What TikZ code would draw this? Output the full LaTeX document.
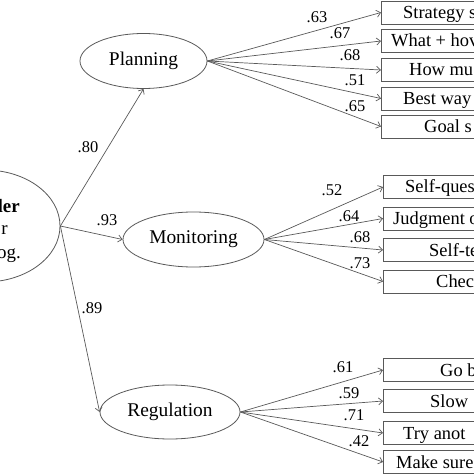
\documentclass[tikz,border=0pt]{standalone}
\usepackage{fontspec}
\setmainfont{Liberation Serif}
\usetikzlibrary{arrows.meta,shapes.geometric}
\begin{document}
\begin{tikzpicture}[x=1bp,y=-1bp,
  lat/.style={ellipse,draw=black!65,line width=0.8bp,inner sep=0pt,font=\fontsize{19.5}{19.5}\selectfont},
  obs/.style={rectangle,draw=black!65,line width=0.8bp,minimum width=160bp,minimum height=23bp,anchor=west,inner sep=0pt},
  btxt/.style={anchor=base west,inner sep=0pt,font=\fontsize{18.5}{18.5}\selectfont},
  coef/.style={inner sep=0pt,font=\fontsize{16.5}{16.5}\selectfont},
  arr/.style={draw=black!65,line width=0.7bp,-{Straight Barb[length=4bp,width=7bp]}}]
\useasboundingbox (0,0) rectangle (474,474);
\clip (0,0) rectangle (474,474);
% latent variables
\node[lat,minimum width=150bp,minimum height=112bp] (root) at (-15,226) {};
\node[anchor=base east,inner sep=0pt,font=\fontsize{19}{19}\selectfont\bfseries] (r1) at (20,213) {der};
\node[anchor=base east,inner sep=0pt,font=\fontsize{19}{19}\selectfont] (r2) at (8,235) {r};
\node[anchor=base east,inner sep=0pt,font=\fontsize{19}{19}\selectfont] (r3) at (21,258) {og.};
\node[lat,minimum width=127bp,minimum height=55bp] (plan) at (143.5,61) {Planning};
\node[lat,minimum width=141bp,minimum height=55bp] (mon) at (193.5,239.5) {Monitoring};
\node[lat,minimum width=140bp,minimum height=54bp] (reg) at (170,412) {Regulation};
\draw[arr] (root.east) -- (plan.south);
\draw[arr] (root.east) -- (mon.west);
\draw[arr] (root.east) -- (reg.west);
\node[coef] (c80) at (88,147) {.80};
\node[coef] (c93) at (107,220) {.93};
\node[coef] (c89) at (92,308) {.89};
% planning indicators
\node[obs] (p1) at (381,12.5) {};
\node[obs] (p2) at (381,41) {};
\node[obs] (p3) at (381,70) {};
\node[obs] (p4) at (381,98.5) {};
\node[obs] (p5) at (381,126.5) {};
\node[btxt] (tp1) at (403,18.5) {Strategy s};
\node[btxt] (tp2) at (391,47) {What + hov};
\node[btxt] (tp3) at (409,76) {How mu};
\node[btxt] (tp4) at (403,104.5) {Best way};
\node[btxt] (tp5) at (424,132.5) {Goal s};
\foreach \i in {1,...,5} {\draw[arr] (plan.east) -- (p\i.west);}
\node[coef] (cp1) at (317,17) {.63};
\node[coef] (cp2) at (340,33) {.67};
\node[coef] (cp3) at (350,55) {.68};
\node[coef] (cp4) at (355,80) {.51};
\node[coef] (cp5) at (355,106) {.65};
% monitoring indicators
\node[obs] (m1) at (383,187) {};
\node[obs] (m2) at (383,218.5) {};
\node[obs] (m3) at (383,250) {};
\node[obs] (m4) at (383,281.5) {};
\node[btxt] (tm1) at (405,193) {Self-ques};
\node[btxt] (tm2) at (393,224.5) {Judgment o};
\node[btxt] (tm3) at (429,256) {Self-te};
\node[btxt] (tm4) at (436,287.5) {Chec};
\foreach \i in {1,...,4} {\draw[arr] (mon.east) -- (m\i.west);}
\node[coef] (cm1) at (332,190) {.52};
\node[coef] (cm2) at (349,216) {.64};
\node[coef] (cm3) at (360,237) {.68};
\node[coef] (cm4) at (360,263) {.73};
% regulation indicators
\node[obs] (g1) at (383,370) {};
\node[obs] (g2) at (383,401) {};
\node[obs] (g3) at (383,433) {};
\node[obs] (g4) at (383,462) {};
\node[btxt] (tg1) at (440,376) {Go b};
\node[btxt] (tg2) at (430,407) {Slow};
\node[btxt] (tg3) at (403,439) {Try anot};
\node[btxt] (tg4) at (396,468) {Make sure};
\foreach \i in {1,...,4} {\draw[arr] (reg.east) -- (g\i.west);}
\node[coef] (cg1) at (343,367) {.61};
\node[coef] (cg2) at (349,393) {.59};
\node[coef] (cg3) at (354,415) {.71};
\node[coef] (cg4) at (359,441) {.42};
\end{tikzpicture}
\end{document}
